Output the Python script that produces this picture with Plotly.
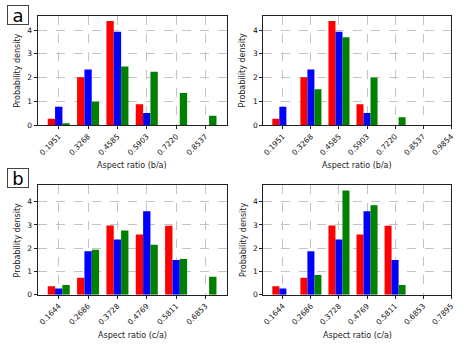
import plotly.graph_objects as go

# ---- data ----
ba_labels_a = ["0.1951", "0.3268", "0.4585", "0.5903", "0.7220", "0.8537"]
ba_labels_b = ["0.1951", "0.3268", "0.4585", "0.5903", "0.7220", "0.8537", "0.9854"]
ca_labels_a = ["0.1644", "0.2686", "0.3728", "0.4769", "0.5811", "0.6853"]
ca_labels_b = ["0.1644", "0.2686", "0.3728", "0.4769", "0.5811", "0.6853", "0.7895"]

tl_red = [0.27, 2.02, 4.38, 0.88, 0.0, 0.0]
tl_blue = [0.78, 2.34, 3.93, 0.51, 0.0, 0.0]
tl_green = [0.08, 0.99, 2.47, 2.25, 1.35, 0.40]

tr_red = [0.27, 2.02, 4.38, 0.88, 0.0, 0.0, 0.0]
tr_blue = [0.78, 2.34, 3.93, 0.51, 0.0, 0.0, 0.0]
tr_green = [0.0, 1.51, 3.70, 2.01, 0.33, 0.0, 0.0]

bl_red = [0.37, 0.73, 2.97, 2.59, 2.96, 0.0]
bl_blue = [0.27, 1.87, 2.37, 3.59, 1.49, 0.0]
bl_green = [0.42, 1.93, 2.76, 2.15, 1.54, 0.77]

br_red = [0.37, 0.73, 2.97, 2.59, 2.96, 0.0, 0.0]
br_blue = [0.27, 1.87, 2.37, 3.59, 1.49, 0.0, 0.0]
br_green = [0.0, 0.85, 4.48, 3.85, 0.42, 0.0, 0.0]

W, H = 474, 353
FONT = "DejaVu Sans"

panels = [
    # (red, blue, green, labels, xrange, yrange, xtitle, px-box (l, r, t, b))
    (tl_red, tl_blue, tl_green, ba_labels_a, [-0.72, 5.72], [0, 4.6], "Aspect ratio (b/a)", (37, 228, 16, 127)),
    (tr_red, tr_blue, tr_green, ba_labels_b, [-0.7, 6.0], [0, 4.6], "Aspect ratio (b/a)", (265, 455, 16, 127)),
    (bl_red, bl_blue, bl_green, ca_labels_a, [-0.72, 5.72], [0, 4.7], "Aspect ratio (c/a)", (37, 228, 188, 299)),
    (br_red, br_blue, br_green, ca_labels_b, [-0.7, 6.0], [0, 4.7], "Aspect ratio (c/a)", (265, 455, 188, 299)),
]

fig = go.Figure()
layout = {}
annotations = []
for i, (r, b, g, labels, xr, yr, xt, box) in enumerate(panels):
    n = i + 1
    xa = "x" if n == 1 else f"x{n}"
    ya = "y" if n == 1 else f"y{n}"
    xs = list(range(len(labels)))
    for vals, col in ((r, "#ff0000"), (b, "#0000ff"), (g, "#008000")):
        fig.add_trace(go.Bar(x=xs, y=vals, marker=dict(color=col, line=dict(width=0)),
                             xaxis=xa, yaxis=ya, showlegend=False))
    l, rr, t, bt = box
    xkey = "xaxis" if n == 1 else f"xaxis{n}"
    ykey = "yaxis" if n == 1 else f"yaxis{n}"
    layout[xkey] = dict(domain=[l / W, rr / W], anchor=ya, range=xr,
                        tickvals=xs, ticktext=labels, tickangle=-45,
                        tickfont=dict(size=7.5, color="#111", family=FONT),
                        ticks="outside", ticklen=3, tickcolor="#222",
                        showgrid=True, gridcolor="#c4c4c4", griddash="dash", gridwidth=1,
                        showline=True, linecolor="#222", linewidth=1, mirror=True,
                        layer="above traces", zeroline=False)
    layout[ykey] = dict(domain=[1 - bt / H, 1 - t / H], anchor=xa, range=yr,
                        tickvals=[0, 1, 2, 3, 4],
                        tickfont=dict(size=7.5, color="#111", family=FONT),
                        ticks="outside", ticklen=3, tickcolor="#222",
                        showgrid=True, gridcolor="#c4c4c4", griddash="dash", gridwidth=1,
                        showline=True, linecolor="#222", linewidth=1, mirror=True,
                        layer="below traces", zeroline=False)
    annotations.append(dict(text=xt, x=(l + rr) / 2 / W, y=1 - (bt + 41) / H,
                            xref="paper", yref="paper", showarrow=False,
                            font=dict(size=8, color="#222", family=FONT),
                            xanchor="center", yanchor="middle"))
    annotations.append(dict(text="Probability density", x=(l - 20.5) / W, y=1 - (t + bt) / 2 / H,
                            xref="paper", yref="paper", showarrow=False, textangle=-90,
                            font=dict(size=8, color="#222", family=FONT),
                            xanchor="center", yanchor="middle"))

for letter, ty in (("a", 15), ("b", 181)):
    annotations.append(dict(text=letter, x=17 / W, y=1 - ty / H, xref="paper", yref="paper",
                            showarrow=False, font=dict(size=18, color="#000", family=FONT),
                            xanchor="center", yanchor="middle",
                            bordercolor="#444", borderwidth=1, borderpad=0,
                            width=20, height=18, bgcolor="white"))

fig.update_layout(**layout)
fig.update_layout(width=W, height=H, margin=dict(l=0, r=0, t=0, b=0),
                  paper_bgcolor="white", plot_bgcolor="white",
                  barmode="group", bargap=0.25, bargroupgap=0,
                  annotations=annotations, font=dict(family=FONT))
fig.write_html("out.html")
